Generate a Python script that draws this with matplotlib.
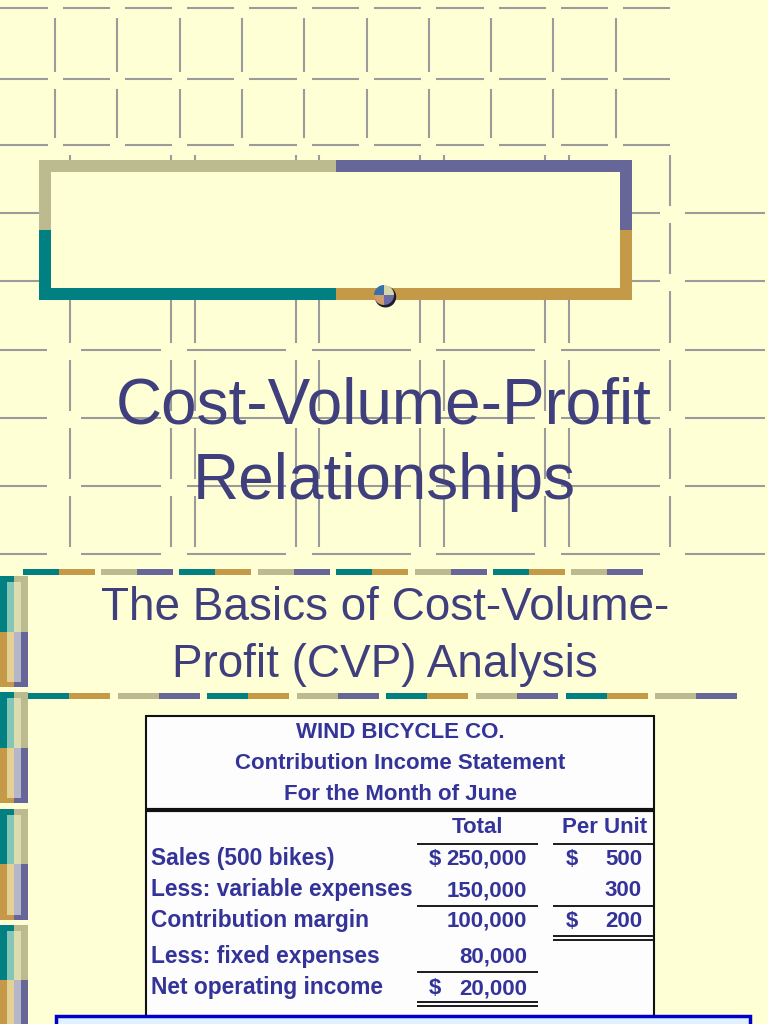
import matplotlib.pyplot as plt
from matplotlib.patches import Rectangle, Wedge, Circle

plt.rcParams['font.family'] = ['Liberation Sans', 'DejaVu Sans']

W, H = 768, 1024

BG = '#FFFFD6'
GRID = '#9B9B9B'
TEAL = '#008080'
GOLD = '#C49A48'
KHAKI = '#BBBB8F'
PURPLE = '#666699'
TITLE = '#3F3F7E'
NAVY = '#333399'

# slide text
title_lines = ['Cost-Volume-Profit', 'Relationships']
subtitle_lines = ['The Basics of Cost-Volume-', 'Profit (CVP) Analysis']

# income statement
header_lines = ['WIND BICYCLE CO.', 'Contribution Income Statement', 'For the Month of June']
col_headers = ['Total', 'Per Unit']
row_labels = ['Sales (500 bikes)', 'Less: variable expenses', 'Contribution margin',
              'Less: fixed expenses', 'Net operating income']
totals = [250000, 150000, 100000, 80000, 20000]
per_unit = [500, 300, 200, None, None]
total_dollar = [True, False, False, False, True]
unit_dollar = [True, False, True, False, False]


def rect(ax, x, y, w, h, color, z=3, **kw):
    ax.add_patch(Rectangle((x, y), w, h, facecolor=color, edgecolor='none', zorder=z, **kw))


def main():
    fig = plt.figure(figsize=(W / 100, H / 100), dpi=100)
    fig.patch.set_facecolor(BG)
    ax = fig.add_axes([0, 0, 1, 1])
    ax.set_xlim(0, W)
    ax.set_ylim(H, 0)
    ax.axis('off')
    lw = 1.5

    # ---- slide 1 background grid ----
    up_rows = [8, 79, 145]
    up_cols = [55 + 62.3 * k for k in range(10)]
    gap = 7.5
    for y in up_rows:
        edges = [0] + [e for c in up_cols for e in (c - gap, c + gap)] + [670]
        for a, b in zip(edges[::2], edges[1::2]):
            ax.hlines(y, a, b, colors=GRID, lw=lw, zorder=1)
    for y0, y1 in zip(up_rows[:-1], up_rows[1:]):
        ax.vlines(up_cols, y0 + 10, y1 - 7, colors=GRID, lw=lw, zorder=1)

    low_rows = [145 + 68.2 * k for k in range(1, 7)]
    low_segs = [(0, 47), (81, 161)] + [(187 + 124.6 * k, min(286 + 124.6 * k, 765)) for k in range(5)]
    for y in low_rows:
        for a, b in low_segs:
            ax.hlines(y, a, b, colors=GRID, lw=lw, zorder=1)
    low_cols = [70 + 124.7 * k for k in range(5)] + [171 + 124.7 * k for k in range(5)]
    rows = [145] + low_rows
    for y0, y1 in zip(rows[:-1], rows[1:]):
        ax.vlines(low_cols, y0 + 10, y1 - 7, colors=GRID, lw=lw, zorder=1)

    # ---- frame box ----
    bx0, by0, bx1, by1, t = 39, 160, 632, 300, 12
    mx, my = 336, 230
    rect(ax, bx0, by0, bx1 - bx0, by1 - by0, BG, z=2)
    rect(ax, bx0, by0, mx - bx0, t, KHAKI)
    rect(ax, mx, by0, bx1 - mx, t, PURPLE)
    rect(ax, bx1 - t, by0, t, my - by0, PURPLE)
    rect(ax, bx1 - t, my, t, by1 - my, GOLD)
    rect(ax, mx, by1 - t, bx1 - mx, t, GOLD)
    rect(ax, bx0, by1 - t, mx - bx0, t, TEAL)
    rect(ax, bx0, by0, t, my - by0, KHAKI)
    rect(ax, bx0, my, t, by1 - my, TEAL)

    # small ball
    cx, cy, r = 384, 295, 10
    ax.add_patch(Circle((cx + 1.5, cy + 1.8), r, color='#1E1E2A', zorder=4))
    for th1, th2, col in [(180, 270, '#3B6FA8'), (270, 360, '#D6D6A6'),
                          (90, 180, '#D09C6C'), (0, 90, '#6C6CA8')]:
        ax.add_patch(Wedge((cx, cy), r, th1, th2, facecolor=col, edgecolor='none', zorder=5))

    for y, s in zip([424, 499], title_lines):
        ax.text(384, y, s, ha='center', va='baseline', fontsize=46, color=TITLE, zorder=6)

    # ---- slide 2 decorations ----
    pairs = [(TEAL, GOLD), (KHAKI, PURPLE)]
    for y, x0, step, half in [(569, 22.5, 78.4, 36), (693, 28, 89.6, 41)]:
        for k in range(8):
            c1, c2 = pairs[k % 2]
            rect(ax, x0 + step * k, y, half, 6, c1)
            rect(ax, x0 + step * k + half, y, half, 6, c2)

    upper = [TEAL, '#86C6B6', '#DCDCB0', KHAKI]
    lower = [GOLD, '#E2D095', '#B6B6CA', PURPLE]
    for k in range(4):
        top = 576 + 116.3 * k
        hh = 55.5
        for i in range(4):
            rect(ax, 7 * i, top, 7, hh, upper[i])
            rect(ax, 7 * i, top + hh, 7, hh, lower[i])
        rect(ax, 0, top, 14, 6, TEAL)
        rect(ax, 14, top, 14, 6, KHAKI)
        rect(ax, 0, top + 2 * hh - 5, 14, 5, GOLD)
        rect(ax, 14, top + 2 * hh - 5, 14, 5, PURPLE)

    for y, s in zip([620, 677], subtitle_lines):
        ax.text(385, y, s, ha='center', va='baseline', fontsize=33, color=TITLE, zorder=6)

    # ---- income statement table ----
    tx0, tx1, ty0 = 146, 654, 716
    ax.add_patch(Rectangle((tx0, ty0), tx1 - tx0, 400, facecolor='#FDFDFD',
                           edgecolor='#111111', lw=1.5, zorder=6))
    ax.hlines(810, tx0, tx1, colors='#111111', lw=3, zorder=7)
    fs = 16
    for y, s in zip([738, 769, 800], header_lines):
        ax.text(400, y, s, ha='center', va='baseline', fontsize=fs, weight='bold', color=NAVY, zorder=8)

    tot_l, tot_r, unit_l, unit_r = 417, 538, 553, 653
    ax.text((tot_l + tot_r) / 2, 833, col_headers[0], ha='center', va='baseline',
            fontsize=fs, weight='bold', color=NAVY, zorder=8)
    ax.text((unit_l + unit_r) / 2 + 2, 833, col_headers[1], ha='center', va='baseline',
            fontsize=fs, weight='bold', color=NAVY, zorder=8)

    row_base = [865, 896, 927, 963, 994]
    for i, y in enumerate(row_base):
        ax.text(151, y, row_labels[i], ha='left', va='baseline', fontsize=16.4,
                weight='bold', color=NAVY, zorder=8)
        ax.text(527, y, f'{totals[i]:,}', ha='right', va='baseline', fontsize=fs,
                weight='bold', color=NAVY, zorder=8)
        if total_dollar[i]:
            ax.text(429, y, '$', ha='left', va='baseline', fontsize=fs,
                    weight='bold', color=NAVY, zorder=8)
        if per_unit[i] is not None:
            ax.text(642, y, f'{per_unit[i]:,}', ha='right', va='baseline', fontsize=fs,
                    weight='bold', color=NAVY, zorder=8)
        if unit_dollar[i]:
            ax.text(566, y, '$', ha='left', va='baseline', fontsize=fs,
                    weight='bold', color=NAVY, zorder=8)

    line_kw = dict(colors='#1A1A1A', lw=1.4, zorder=8)
    ax.hlines([844, 906], tot_l, tot_r, **line_kw)
    ax.hlines([844, 906, 936, 940], unit_l, unit_r, **line_kw)
    ax.hlines([972, 1002, 1006], tot_l, tot_r, **line_kw)

    # ---- bottom note box ----
    ax.add_patch(Rectangle((56, 1016), 694, 40, facecolor='#E0F2FF',
                           edgecolor='#0000CC', lw=2.5, zorder=9))

    fig.savefig('out.png', dpi=100, facecolor=BG)


if __name__ == '__main__':
    main()
